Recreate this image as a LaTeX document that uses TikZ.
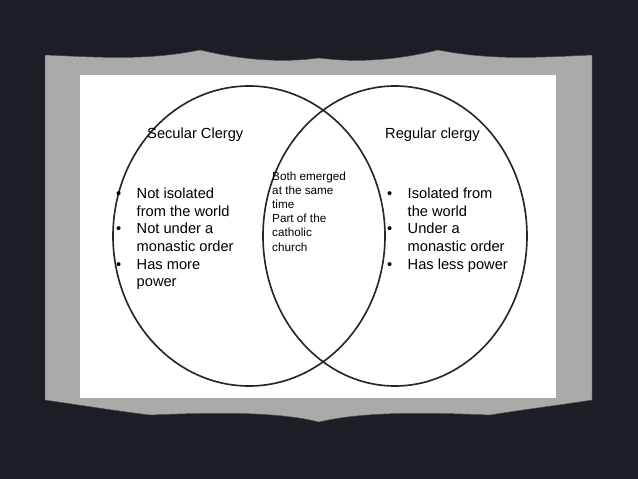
\documentclass[tikz,border=0pt]{standalone}
\usepackage{fontspec}
\setmainfont{Liberation Sans}
\begin{document}
\begin{tikzpicture}[x=0.03cm,y=-0.03cm,
  venn/.style={draw=black!85,line width=1.4pt},
  txt/.style={align=left,anchor=north west,inner sep=0pt,font=\fontsize{12.5}{15}\selectfont},
  small/.style={align=left,anchor=north west,inner sep=0pt,font=\fontsize{10}{12}\selectfont}]
\definecolor{bg}{RGB}{28,30,38}
\definecolor{frame}{RGB}{170,170,170}
\newcommand\bul{\makebox[1.4em][l]{•}}
\newcommand\ind{\hspace*{1.4em}}
\fill[bg] (0,0) rectangle (638,479);
\useasboundingbox (0,0) rectangle (638,479);
\fill[frame,draw=gray!60!black,line width=0.4pt]
  (45,55) .. controls (110,58) and (150,60) .. (200,50)
  .. controls (250,62) and (290,62) .. (319,58)
  .. controls (350,62) and (390,62) .. (438,50)
  .. controls (490,60) and (530,58) .. (592,55)
  -- (592,400) .. controls (560,405) and (520,410) .. (490,415)
  .. controls (420,412) and (360,412) .. (319,422)
  .. controls (280,412) and (220,412) .. (150,415)
  .. controls (110,410) and (80,405) .. (45,400) -- cycle;
\fill[white] (80,75) rectangle (556,398);
\draw[venn] (249,236) ellipse [x radius=136,y radius=150];
\draw[venn] (395,236) ellipse [x radius=132,y radius=150];
\node[txt] (t1) at (147,128) {Secular Clergy};
\node[txt] (t2) at (385,128) {Regular clergy};
\node[txt] (l) at (116,188) {\bul Not isolated\\\ind from the world\\\bul Not under a\\\ind monastic order\\\bul Has more\\\ind power};
\node[txt] (r) at (387,188) {\bul Isolated from\\\ind the world\\\bul Under a\\\ind monastic order\\\bul Has less power};
\node[small] (c) at (272,172) {Both emerged\\at the same\\time\\Part of the\\catholic\\church};
\end{tikzpicture}
\end{document}
